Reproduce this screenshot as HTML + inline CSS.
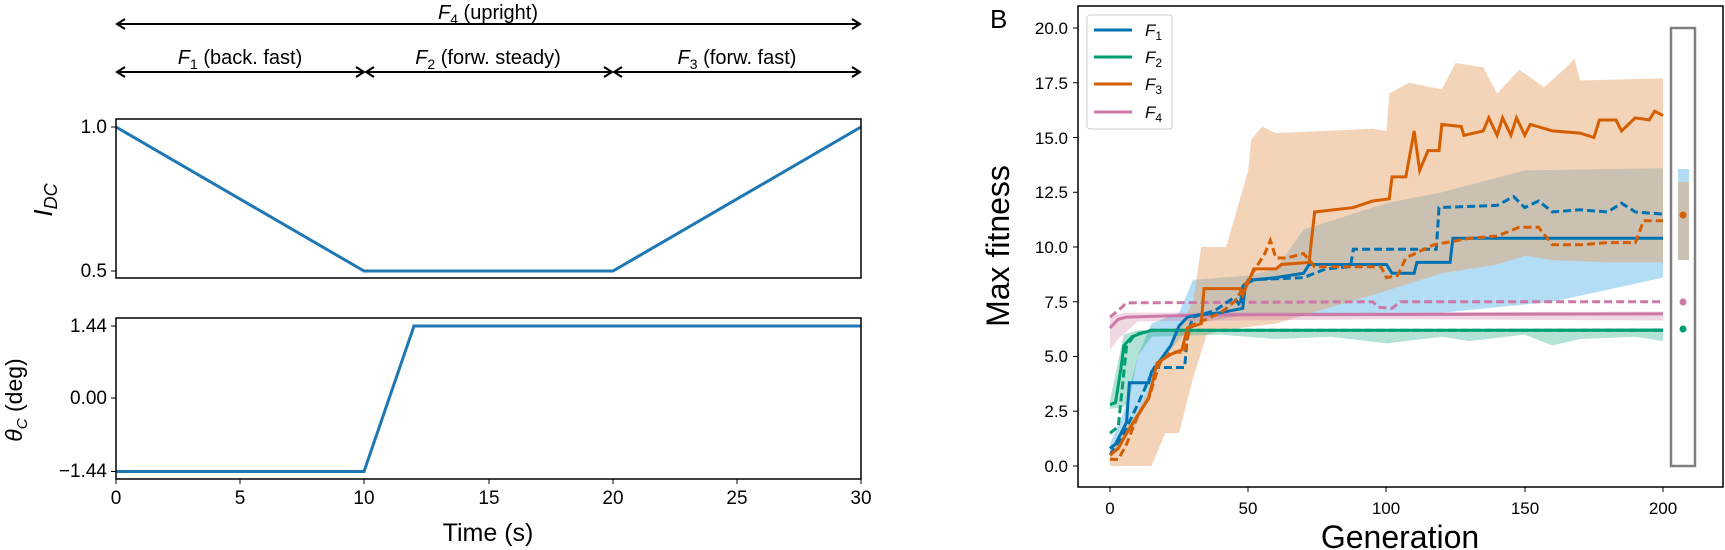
<!DOCTYPE html>
<html><head><meta charset="utf-8"><style>
body{margin:0;background:#fff}
svg{display:block;font-family:"Liberation Sans","DejaVu Sans",sans-serif}
</style></head><body>
<svg width="1725" height="550" viewBox="0 0 1725 550" xmlns="http://www.w3.org/2000/svg">
<defs>
<marker id="ah" markerWidth="12" markerHeight="12" refX="10" refY="6" orient="auto-start-reverse" markerUnits="userSpaceOnUse">
<path d="M2,1 L10,6 L2,11" fill="none" stroke="#000" stroke-width="2"/>
</marker>
</defs>
<g font-size="20">
<text x="488" y="19" text-anchor="middle"><tspan font-style="italic">F</tspan><tspan font-size="14" dy="5">4</tspan><tspan dy="-5"> (upright)</tspan></text>
<line x1="117" y1="24" x2="860" y2="24" stroke="#000" stroke-width="2" marker-start="url(#ah)" marker-end="url(#ah)"/>
<text x="240" y="64" text-anchor="middle"><tspan font-style="italic">F</tspan><tspan font-size="14" dy="5">1</tspan><tspan dy="-5"> (back. fast)</tspan></text>
<text x="488" y="64" text-anchor="middle"><tspan font-style="italic">F</tspan><tspan font-size="14" dy="5">2</tspan><tspan dy="-5"> (forw. steady)</tspan></text>
<text x="737" y="64" text-anchor="middle"><tspan font-style="italic">F</tspan><tspan font-size="14" dy="5">3</tspan><tspan dy="-5"> (forw. fast)</tspan></text>
<line x1="117" y1="72" x2="364" y2="72" stroke="#000" stroke-width="2" marker-start="url(#ah)" marker-end="url(#ah)"/>
<line x1="366" y1="72" x2="612" y2="72" stroke="#000" stroke-width="2" marker-start="url(#ah)" marker-end="url(#ah)"/>
<line x1="614" y1="72" x2="860" y2="72" stroke="#000" stroke-width="2" marker-start="url(#ah)" marker-end="url(#ah)"/>
</g>
<polyline points="116,127 364,271 613,271 861,127" fill="none" stroke="#1f77b4" stroke-width="3"/>
<rect x="116" y="119" width="745" height="159" fill="none" stroke="#000" stroke-width="1.5"/>
<g font-size="19" text-anchor="end">
<line x1="111" y1="127" x2="116" y2="127" stroke="#000"/><text x="107" y="133">1.0</text>
<line x1="111" y1="271" x2="116" y2="271" stroke="#000"/><text x="107" y="277">0.5</text>
</g>
<text transform="translate(52,200) rotate(-90)" font-size="26" text-anchor="middle" font-style="italic">I<tspan font-size="18" dy="5">DC</tspan></text>
<polyline points="116,471.5 364,471.5 414,326 861,326" fill="none" stroke="#1f77b4" stroke-width="3"/>
<rect x="116" y="318" width="745" height="161" fill="none" stroke="#000" stroke-width="1.5"/>
<g font-size="19" text-anchor="end">
<line x1="111" y1="326" x2="116" y2="326" stroke="#000"/><text x="107" y="332">1.44</text>
<line x1="111" y1="398" x2="116" y2="398" stroke="#000"/><text x="107" y="404">0.00</text>
<line x1="111" y1="471.5" x2="116" y2="471.5" stroke="#000"/><text x="107" y="477">−1.44</text>
</g>
<g font-size="19" text-anchor="middle">
<line x1="116" y1="479" x2="116" y2="484" stroke="#000"/><text x="116" y="504">0</text>
<line x1="240" y1="479" x2="240" y2="484" stroke="#000"/><text x="240" y="504">5</text>
<line x1="364" y1="479" x2="364" y2="484" stroke="#000"/><text x="364" y="504">10</text>
<line x1="489" y1="479" x2="489" y2="484" stroke="#000"/><text x="489" y="504">15</text>
<line x1="613" y1="479" x2="613" y2="484" stroke="#000"/><text x="613" y="504">20</text>
<line x1="737" y1="479" x2="737" y2="484" stroke="#000"/><text x="737" y="504">25</text>
<line x1="861" y1="479" x2="861" y2="484" stroke="#000"/><text x="861" y="504">30</text>
</g>
<text x="488" y="541" font-size="25" text-anchor="middle">Time (s)</text>
<text transform="translate(22,400) rotate(-90)" font-size="23" text-anchor="middle"><tspan font-style="italic">θ</tspan><tspan font-style="italic" font-size="15" dy="5">C</tspan><tspan dy="-5"> (deg)</tspan></text>

<text x="990" y="28" font-size="26">B</text>
<g transform="translate(1110,466) scale(2.765,-21.9)">
<g stroke="none">
<polygon fill="#56b4e9" fill-opacity="0.45" points="0,1 5,2.5 10,5 15,6.5 25,7 30,8.5 50,8.7 60,9 70,10.8 100,12 120,12.5 150,13.5 200,13.6 200,8.6 160,7.5 120,7.0 100,7.0 50,6.9 30,6.5 20,5 10,2 0,0.3"/>
<polygon fill="#e69f62" fill-opacity="0.45" points="0,0.8 10,2.5 20,5 30,7.5 33,10 42,10 50,13.5 51,14.9 55,15.5 60,15.2 95,15.4 100,15.3 101,17.0 108,17.5 120,17.2 125,18.4 135,18.2 140,17.0 148,18.1 157,17.3 165,18.2 168,18.6 170,17.6 200,17.7 200,9.3 180,9.3 160,9.4 150,9.6 140,9.2 120,8.8 100,8.0 60,6.5 40,6.2 35,6 30,4 25,1.5 20,1.5 15,0 0,0"/>
<polygon fill="#009e73" fill-opacity="0.3" points="0,3 5,6 10,6.2 200,6.3 200,5.7 190,5.9 170,5.8 160,5.5 150,6.0 130,5.7 120,5.9 100,5.6 80,5.9 60,5.8 40,6.0 15,5.9 10,5.0 7,3 5,2.7 0,2.6"/>
<polygon fill="#cc79a7" fill-opacity="0.3" points="0,6.8 5,7.0 200,7.05 200,6.65 100,6.7 10,6.6 3,5.8 0,5.3"/>
</g>
<g fill="none">
<polyline vector-effect="non-scaling-stroke" stroke-width="3" stroke="#cc79a7" points="0,6.3 3,6.7 6,6.8 20,6.85 40,6.9 200,6.95"/>
<polyline vector-effect="non-scaling-stroke" stroke-width="3" stroke="#cc79a7" stroke-dasharray="8,4" points="0,6.8 3,7.1 6,7.45 95,7.5 97,7.25 102,7.2 105,7.5 200,7.5"/>
<polyline vector-effect="non-scaling-stroke" stroke-width="3" stroke="#009e73" points="0,2.8 2,2.9 4,4.5 5,5.5 8,5.9 10,6.0 15,6.2 200,6.2"/>
<polyline vector-effect="non-scaling-stroke" stroke-width="3" stroke="#009e73" stroke-dasharray="8,4" points="0,1.5 3,1.8 6,5.5 9,6.0 15,6.2 200,6.2"/>
<polyline vector-effect="non-scaling-stroke" stroke-width="3" stroke="#0072b2" points="0,0.8 2,1 4,1.5 6,2 7,3.8 14,3.8 15,4.3 18,4.8 22,5.5 25,6.4 28,6.8 32,6.9 40,7 48,7.2 49,8.3 52,8.5 60,8.6 70,8.8 72,9.2 100,9.2 102,8.8 110,8.8 111,9.3 123,9.3 124,10.4 200,10.4"/>
<polyline vector-effect="non-scaling-stroke" stroke-width="3" stroke="#0072b2" stroke-dasharray="8,4" points="0,0.5 5,1.5 10,2.8 16,4.5 27,4.5 28,6 30,6.8 38,7.1 45,7.7 47,7.3 48,8.2 50,8.5 70,8.6 78,9.0 87,9.1 88,9.9 118,9.9 119,11.8 140,11.9 146,12.3 150,11.8 155,12.1 160,11.6 170,11.7 180,11.6 185,12 190,11.6 200,11.5"/>
<polyline vector-effect="non-scaling-stroke" stroke-width="3" stroke="#d55e00" points="0,0.5 3,0.8 6,1.5 10,2.3 14,3.1 17,4.7 22,5.1 26,5.3 28,6.3 33,6.5 34,8.1 47,8.1 48,7.8 52,9 60,9 62,9.2 72,9.3 74,11.6 88,11.8 95,12.1 101,12.2 102,13.2 107,13.2 110,15.3 112,13.5 115,14.4 119,14.4 120,15.6 127,15.5 128,15.1 135,15.3 137,15.9 140,15.1 142,15.9 145,15.1 147,15.9 150,15.1 152,15.6 160,15.3 170,15.2 175,15.0 177,15.8 183,15.8 185,15.3 190,15.9 195,15.8 197,16.2 200,16.0"/>
<polyline vector-effect="non-scaling-stroke" stroke-width="3" stroke="#d55e00" stroke-dasharray="8,4" points="0,0.3 3,0.3 6,1 10,2.3 14,3.1 18,4.7 22,5.2 27,5.2 29,6.4 33,6.6 40,7 45,7.5 50,8.5 56,9.7 58,10.3 60,9.5 64,9.5 70,9.7 74,9.1 98,9.1 100,8.6 104,8.7 107,9.5 117,10.1 130,10.4 140,10.5 148,10.9 155,10.9 160,10.1 170,10.1 180,10.2 190,10.2 193,11.2 200,11.2"/>
</g>
</g>
<rect x="1671" y="28" width="24" height="438" fill="none" stroke="#808080" stroke-width="2.5"/>
<rect x="1678" y="169" width="11" height="91" fill="#56b4e9" fill-opacity="0.45"/>
<rect x="1678" y="182" width="11" height="78" fill="#e69f62" fill-opacity="0.45"/>
<circle cx="1683" cy="215" r="3.5" fill="#d55e00"/>
<circle cx="1683" cy="302" r="3.5" fill="#cc79a7"/>
<circle cx="1683" cy="329" r="3.5" fill="#009e73"/>
<rect x="1078" y="6" width="645" height="481" fill="none" stroke="#000" stroke-width="1.5"/>
<g font-size="17" text-anchor="end">
<g stroke="#000"><line x1="1073" y1="28" x2="1078" y2="28"/><line x1="1073" y1="82.75" x2="1078" y2="82.75"/><line x1="1073" y1="137.5" x2="1078" y2="137.5"/><line x1="1073" y1="192.25" x2="1078" y2="192.25"/><line x1="1073" y1="247" x2="1078" y2="247"/><line x1="1073" y1="301.75" x2="1078" y2="301.75"/><line x1="1073" y1="356.5" x2="1078" y2="356.5"/><line x1="1073" y1="411.25" x2="1078" y2="411.25"/><line x1="1073" y1="466" x2="1078" y2="466"/></g>
<text x="1068" y="34">20.0</text><text x="1068" y="89">17.5</text><text x="1068" y="144">15.0</text><text x="1068" y="198">12.5</text><text x="1068" y="253">10.0</text><text x="1068" y="308">7.5</text><text x="1068" y="362">5.0</text><text x="1068" y="417">2.5</text><text x="1068" y="472">0.0</text>
</g>
<g font-size="17" text-anchor="middle">
<g stroke="#000"><line x1="1110" y1="487" x2="1110" y2="492"/><line x1="1248" y1="487" x2="1248" y2="492"/><line x1="1386" y1="487" x2="1386" y2="492"/><line x1="1525" y1="487" x2="1525" y2="492"/><line x1="1663" y1="487" x2="1663" y2="492"/></g>
<text x="1110" y="514">0</text><text x="1248" y="514">50</text><text x="1386" y="514">100</text><text x="1525" y="514">150</text><text x="1663" y="514">200</text>
</g>
<text x="1400" y="548" font-size="32" text-anchor="middle">Generation</text>
<text transform="translate(1009,246) rotate(-90)" font-size="32" text-anchor="middle">Max fitness</text>
<rect x="1087" y="15" width="85" height="114" rx="3" fill="#fff" fill-opacity="0.8" stroke="#ccc"/>
<g stroke-width="3">
<line x1="1094" y1="30" x2="1132" y2="30" stroke="#0072b2"/>
<line x1="1094" y1="57" x2="1132" y2="57" stroke="#009e73"/>
<line x1="1094" y1="84" x2="1132" y2="84" stroke="#d55e00"/>
<line x1="1094" y1="112" x2="1132" y2="112" stroke="#cc79a7"/>
</g>
<g font-size="17" font-style="italic">
<text x="1145" y="36">F<tspan font-size="12" dy="4" font-style="normal">1</tspan></text>
<text x="1145" y="63">F<tspan font-size="12" dy="4" font-style="normal">2</tspan></text>
<text x="1145" y="90">F<tspan font-size="12" dy="4" font-style="normal">3</tspan></text>
<text x="1145" y="118">F<tspan font-size="12" dy="4" font-style="normal">4</tspan></text>
</g>
</svg>
</body></html>
